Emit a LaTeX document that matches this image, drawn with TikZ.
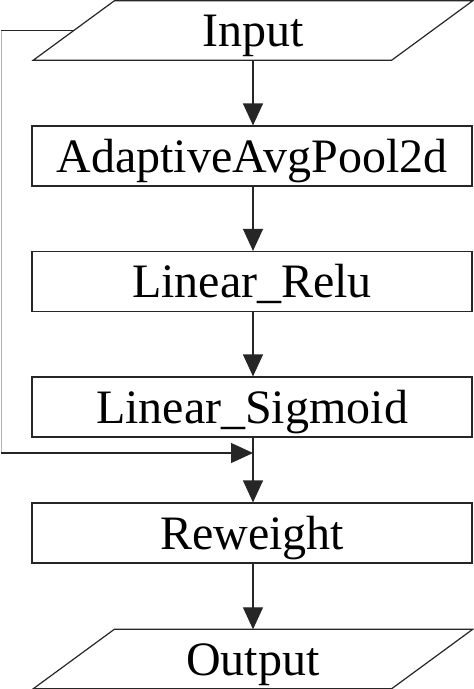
\documentclass[tikz,border=0pt]{standalone}
\usepackage{fontspec}
\setmainfont{Liberation Serif}
\usetikzlibrary{arrows.meta}
\begin{document}
\begin{tikzpicture}[x=1pt,y=-1pt,
  line/.style={draw=black!85, line width=1.2pt},
  blk/.style={line, rectangle, minimum width=440pt, minimum height=60pt, inner sep=0pt,
    font=\fontsize{48}{52}\selectfont, text height=32pt, text depth=0pt},
  io/.style={rectangle, minimum width=358pt, minimum height=59pt, inner sep=0pt,
    font=\fontsize{48}{52}\selectfont, text height=32pt, text depth=0pt},
  arr/.style={line, -{Triangle[length=22pt,width=20pt]}}]
\useasboundingbox (0,0) rectangle (474,689);
\fill[white] (0,0) rectangle (474,689);
% nodes
\node[io] (in) at (253,30.5) {Input};
\node[blk] (b1) at (252,156) {AdaptiveAvgPool2d};
\node[blk] (b2) at (252,281.5) {Linear\_Relu};
\node[blk] (b3) at (252,407) {Linear\_Sigmoid};
\node[blk] (rw) at (252,533) {Reweight};
\node[io] (out) at (253,659) {Output};
% parallelograms
\draw[line] ([xshift=-40.5pt]in.south west) -- ([xshift=40.5pt]in.north west)
  -- ([xshift=40.5pt]in.north east) -- ([xshift=-40.5pt]in.south east) -- cycle;
\draw[line] ([xshift=-40.5pt]out.south west) -- ([xshift=40.5pt]out.north west)
  -- ([xshift=40.5pt]out.north east) -- ([xshift=-40.5pt]out.south east) -- cycle;
% connectors
\coordinate (m) at (253,453);
\draw[arr] (in.south -| 253,0) -- (b1.north -| 253,0);
\draw[arr] (b1.south -| 253,0) -- (b2.north -| 253,0);
\draw[arr] (b2.south -| 253,0) -- (b3.north -| 253,0);
\draw[arr] (b3.south -| 253,0) -- (rw.north -| 253,0);
\draw[arr] (rw.south -| 253,0) -- (out.north -| 253,0);
\draw[line] (in.west) -- (1.2,30.5);
\draw[draw=black!30, line width=1.2pt] (1.2,30.5) -- (1.2,453);
\draw[arr] (1.2,453) -- (m);
\end{tikzpicture}
\end{document}
